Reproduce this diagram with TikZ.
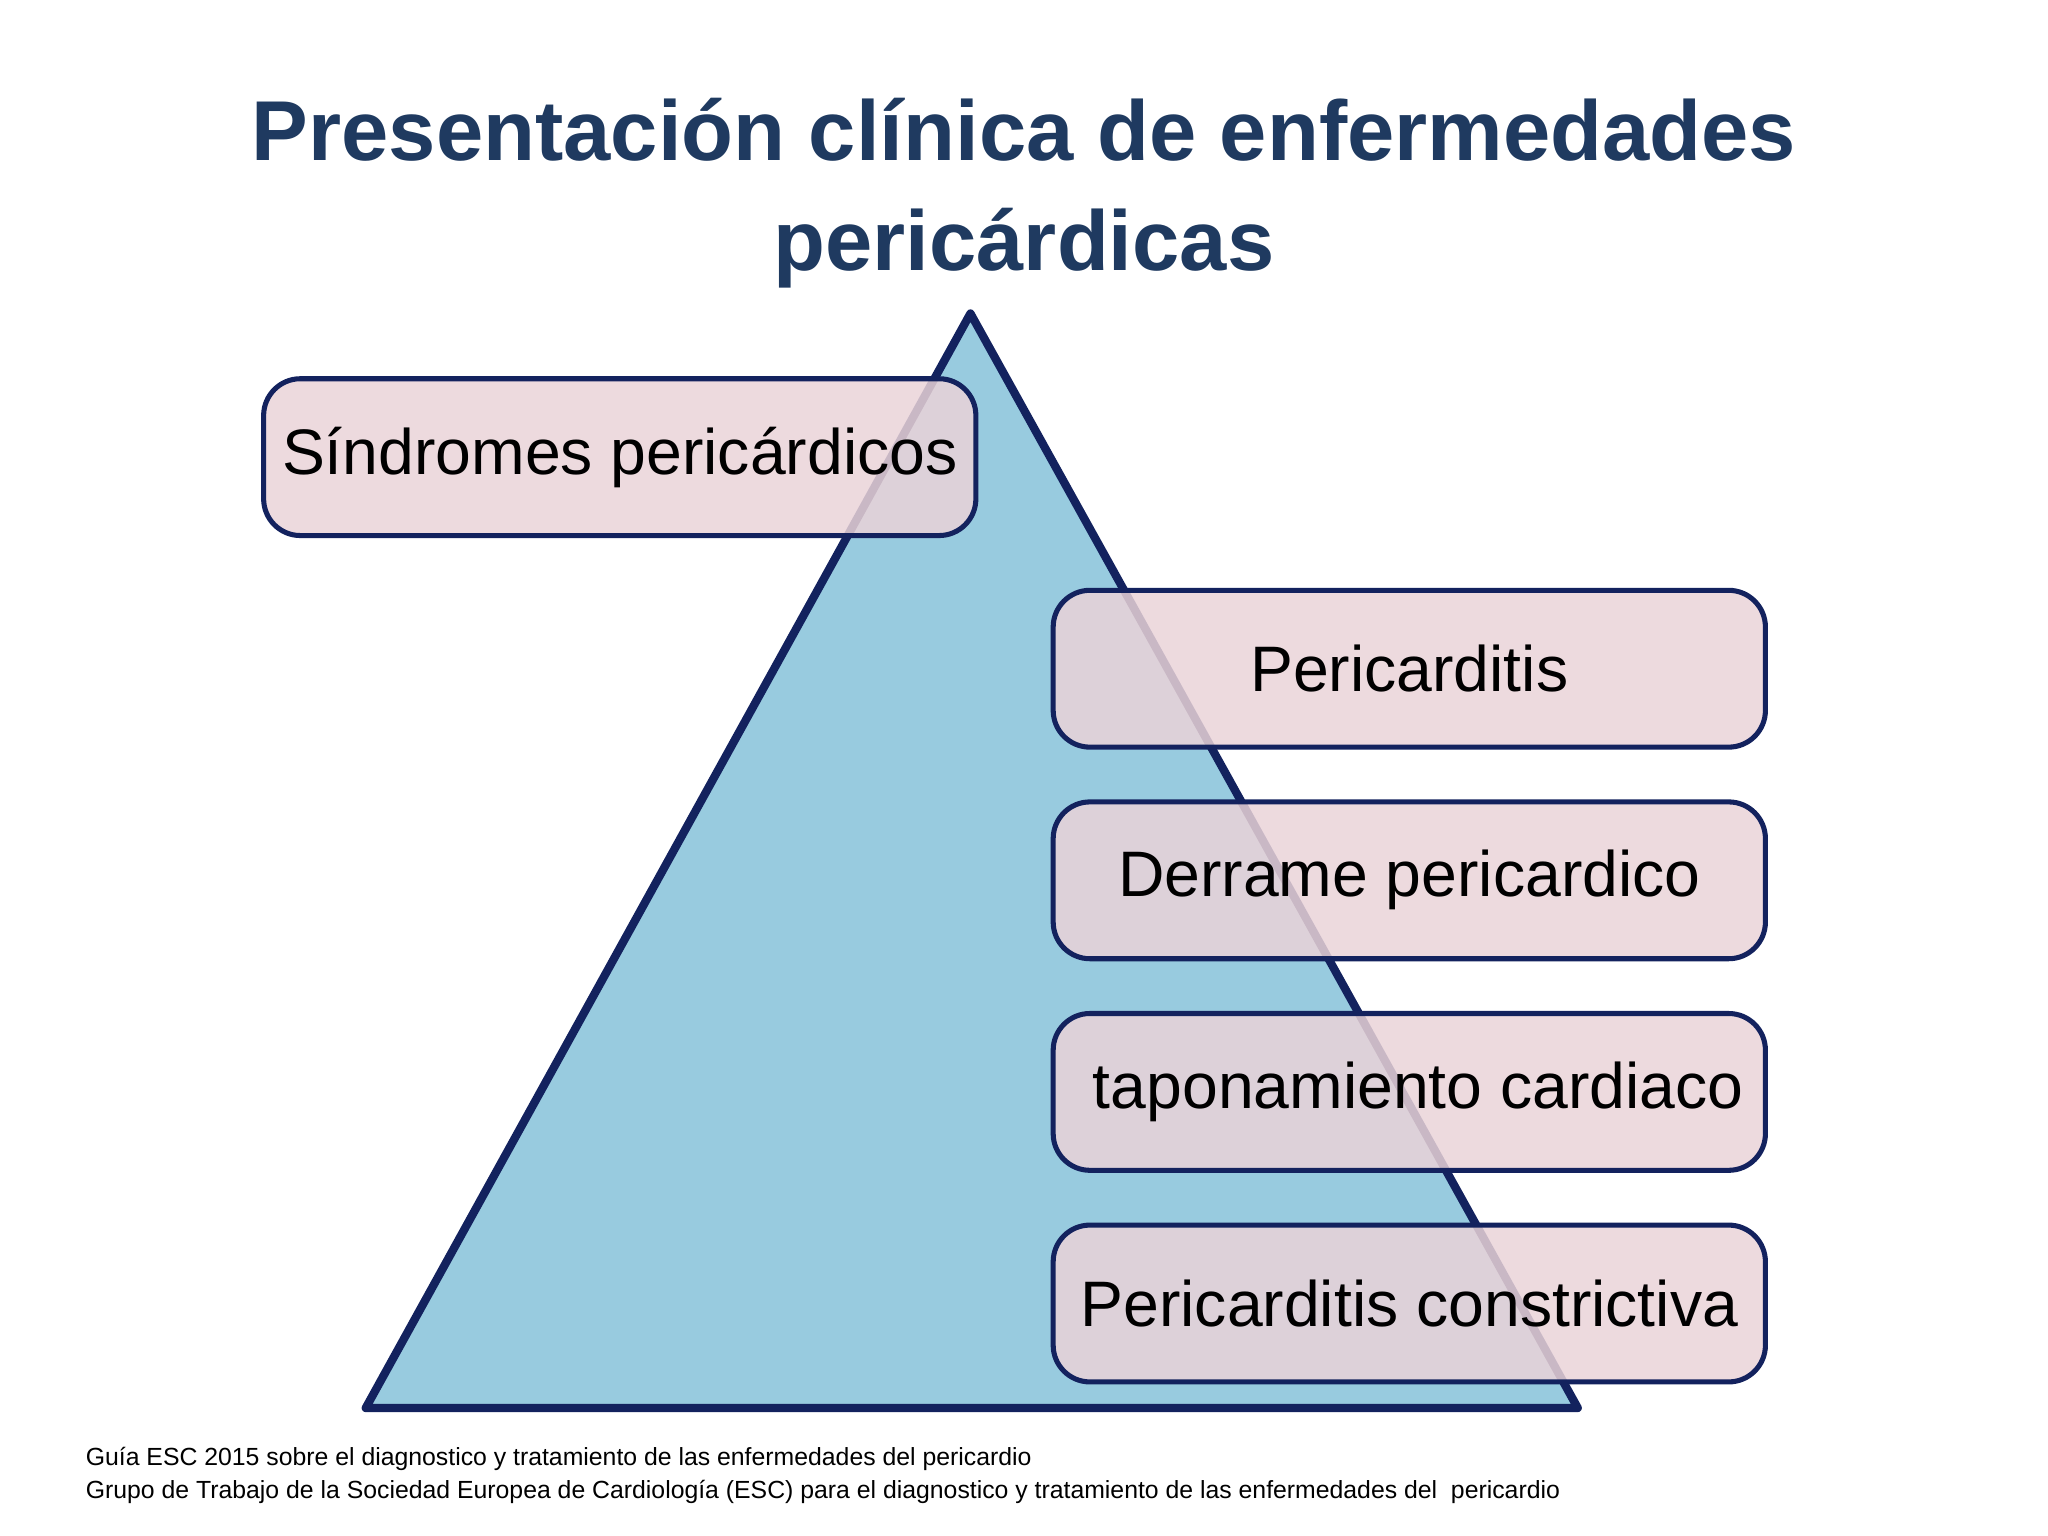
\documentclass[tikz,border=0pt]{standalone}
\usepackage{fontspec}
\setmainfont{Liberation Sans}
\usetikzlibrary{calc}
\definecolor{titleblue}{HTML}{1F3A60}
\definecolor{navy}{HTML}{13225E}
\definecolor{pyrfill}{HTML}{98CBDF}
\definecolor{boxfill}{HTML}{EAD3D8}
\begin{document}
\begin{tikzpicture}[x=0.01cm,y=-0.01cm,
    syndbox/.style={draw=navy,line width=1.1pt,rounded corners=8pt,fill=boxfill,fill opacity=0.85,text opacity=1,
      minimum width=5.45cm,minimum height=1.2cm,font=\fontsize{14}{16}\selectfont,inner sep=0pt}]
      \useasboundingbox (0,0) rectangle (1568,1176);
      % title
      \node[font=\bfseries\fontsize{18.5}{24}\selectfont,text=titleblue,align=center] (title) at (784,148)
        {Presentación clínica de enfermedades\\pericárdicas};
      % pyramid
      \coordinate (T) at (743,240);
      \coordinate (L) at (280,1078);
      \coordinate (R) at (1208,1078);
      \draw[navy,line width=1.8pt,line join=round,fill=pyrfill](T)--(R)--(L)--cycle;
      % boxes
      \node[syndbox] (S) at (474.5,350) {Síndromes pericárdicos};
      \node[syndbox] (P1) at (1079,512) {Pericarditis};
      \node[syndbox] (P2) at (1079,674) {Derrame pericardico};
      \node[syndbox] (P3) at (1079,836) {\ taponamiento cardiaco};
      \node[syndbox] (P4) at (1079,998) {Pericarditis constrictiva};
      % reference
      \node[anchor=north west,align=left,inner sep=0pt,font=\fontsize{5.4}{7.3}\selectfont] (ref) at (65,1107)
        {Guía ESC 2015 sobre el diagnostico y tratamiento de las enfermedades del pericardio\\
         Grupo de Trabajo de la Sociedad Europea de Cardiología (ESC) para el diagnostico y tratamiento de las enfermedades del\ \ pericardio};
    \end{tikzpicture}
\end{document}
